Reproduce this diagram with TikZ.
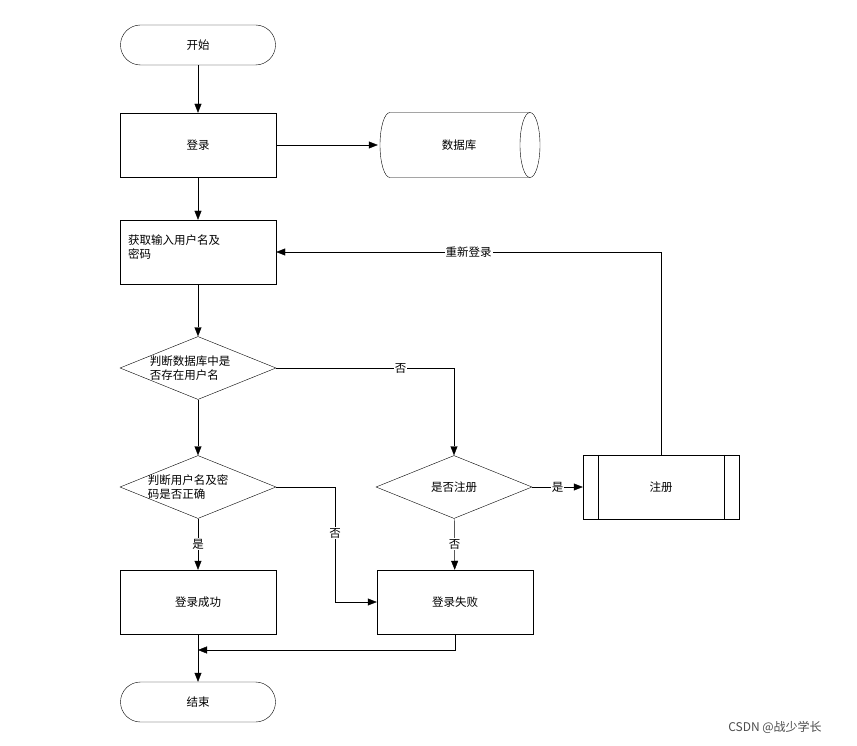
\documentclass[tikz,border=0pt]{standalone}
\usepackage{fontspec}
\setmainfont{Noto Sans CJK SC}
\usetikzlibrary{shapes.geometric,arrows.meta}

\begin{document}
\begin{tikzpicture}[x=1pt,y=-1pt,font=\fontsize{11.5}{14}\selectfont,
  box/.style={draw,minimum width=156pt,minimum height=64pt,inner sep=0pt},
  term/.style={draw,rounded corners=20pt,minimum width=155pt,minimum height=40pt},
  dec/.style={draw,diamond,aspect=2.45,minimum width=156pt,minimum height=63pt,inner sep=0pt},
  lbl/.style={fill=white,inner sep=1pt},
  arr/.style={-{Triangle[length=9pt,width=7pt]}}]
\useasboundingbox (0,0) rectangle (857,746);

% Shapes
\node[term] (start) at (198,45) {开始};
\node[box] (login) at (198,145) {登录};
\node[minimum width=162pt,minimum height=65pt,inner sep=0pt] (db) at (459,145) {数据库};
\draw (390,112.5) -- (530,112.5) arc[start angle=-90,end angle=90,x radius=10,y radius=32.5]
  -- (390,177.5) arc[start angle=90,end angle=270,x radius=10,y radius=32.5];
\draw (530,112.5) arc[start angle=-90,end angle=-270,x radius=10,y radius=32.5];
\node[box] (input) at (198,252) {};
\node[anchor=north west,align=left,inner sep=0pt] (inputtxt) at (128,235) {获取输入用户名及\\密码};
\node[dec] (chkuser) at (198,368) {};
\node[align=left,inner sep=0pt] (chkusertxt) at (190,368) {判断数据库中是\\否存在用户名};
\node[dec] (chkpwd) at (198,487) {};
\node[align=left,inner sep=0pt] (chkpwdtxt) at (188,487) {判断用户名及密\\码是否正确};
\node[dec] (chkreg) at (454,487) {是否注册};
\node[box] (reg) at (661,487) {注册};
\draw ([xshift=15pt]reg.north west) -- ([xshift=15pt]reg.south west);
\draw ([xshift=-15pt]reg.north east) -- ([xshift=-15pt]reg.south east);
\node[box] (ok) at (198,602) {登录成功};
\node[box] (fail) at (455,602) {登录失败};
\node[term] (end) at (198,702) {结束};
\node[text=black!70,font=\fontsize{12}{14}\selectfont] (mark) at (775,727) {CSDN @战少学长};

% Connectors
\draw[arr] (start) -- (login);
\draw[arr] (login) -- (db.west);
\draw[arr] (login) -- (input);
\draw[arr] (input) -- (chkuser);
\draw[arr] (chkuser) -- (chkpwd);
\draw[arr] (chkuser.east) -| node[lbl,pos=0.35] {否} (chkreg.north);
\draw[arr] (chkreg) -- node[lbl,pos=0.5] {是} (reg);
\draw[arr] (reg.north) |- node[lbl,pos=0.75] {重新登录} (input.east);
\draw[arr] (chkpwd) -- node[lbl] {是} (ok);
\draw[arr] (chkpwd.east) -- (335,487) -- node[lbl,pos=0.4] {否} (335,602) -- (fail.west);
\draw[arr] (chkreg) -- node[lbl] {否} (fail);
\draw[arr] (ok) -- (end);
\draw[arr] (fail.south) -- (455,650) -- (198,650);

\end{tikzpicture}
\end{document}
